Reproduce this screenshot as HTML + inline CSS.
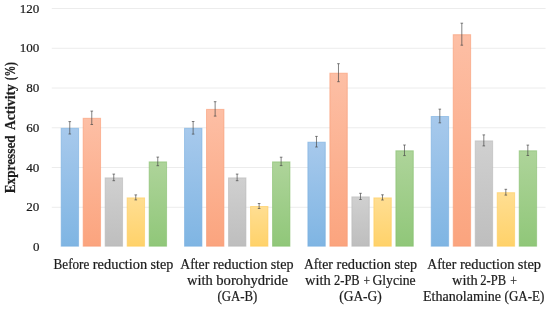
<!DOCTYPE html><html><head><meta charset="utf-8"><title>Expressed Activity</title>
<style>html,body{margin:0;padding:0;background:#fff}body{width:550px;height:310px;overflow:hidden}svg{display:block}text{font-family:"Liberation Serif","DejaVu Serif",serif;fill:#1c1c1c;stroke:#1c1c1c;stroke-width:0.22px}</style></head><body>
<svg width="550" height="310" viewBox="0 0 550 310">
<defs>
<linearGradient id="g0" x1="0" y1="0" x2="0" y2="1"><stop offset="0" stop-color="#a7c9ec"/><stop offset="1" stop-color="#7fb5e3"/></linearGradient>
<linearGradient id="g1" x1="0" y1="0" x2="0" y2="1"><stop offset="0" stop-color="#fdbfa5"/><stop offset="1" stop-color="#fba47e"/></linearGradient>
<linearGradient id="g2" x1="0" y1="0" x2="0" y2="1"><stop offset="0" stop-color="#d0d0d0"/><stop offset="1" stop-color="#bebebe"/></linearGradient>
<linearGradient id="g3" x1="0" y1="0" x2="0" y2="1"><stop offset="0" stop-color="#ffde92"/><stop offset="1" stop-color="#ffd26a"/></linearGradient>
<linearGradient id="g4" x1="0" y1="0" x2="0" y2="1"><stop offset="0" stop-color="#aed49a"/><stop offset="1" stop-color="#90c779"/></linearGradient>
</defs>
<rect width="550" height="310" fill="#fff"/>
<line x1="51.8" x2="545.6" y1="207.25" y2="207.25" stroke="#ececec" stroke-width="1"/>
<line x1="51.8" x2="545.6" y1="167.50" y2="167.50" stroke="#ececec" stroke-width="1"/>
<line x1="51.8" x2="545.6" y1="127.75" y2="127.75" stroke="#ececec" stroke-width="1"/>
<line x1="51.8" x2="545.6" y1="88.00" y2="88.00" stroke="#ececec" stroke-width="1"/>
<line x1="51.8" x2="545.6" y1="48.25" y2="48.25" stroke="#ececec" stroke-width="1"/>
<line x1="51.8" x2="545.6" y1="8.50" y2="8.50" stroke="#ececec" stroke-width="1"/>
<text x="39.4" y="251.20" font-size="13.4" text-anchor="end" textLength="6.5" lengthAdjust="spacingAndGlyphs">0</text>
<text x="39.4" y="211.45" font-size="13.4" text-anchor="end" textLength="13.1" lengthAdjust="spacingAndGlyphs">20</text>
<text x="39.4" y="171.70" font-size="13.4" text-anchor="end" textLength="13.1" lengthAdjust="spacingAndGlyphs">40</text>
<text x="39.4" y="131.95" font-size="13.4" text-anchor="end" textLength="13.1" lengthAdjust="spacingAndGlyphs">60</text>
<text x="39.4" y="92.20" font-size="13.4" text-anchor="end" textLength="13.1" lengthAdjust="spacingAndGlyphs">80</text>
<text x="39.4" y="52.45" font-size="13.4" text-anchor="end" textLength="19.6" lengthAdjust="spacingAndGlyphs">100</text>
<text x="39.4" y="12.70" font-size="13.4" text-anchor="end" textLength="19.6" lengthAdjust="spacingAndGlyphs">120</text>
<rect x="61.18" y="128.30" width="17.4" height="117.90" fill="url(#g0)" stroke="#76aee0" stroke-opacity="0.6" stroke-width="1"/>
<path d="M69.78 121.60V134.00M68.48 121.60H71.08M68.48 134.00H71.08" stroke="#4a4a4a" stroke-width="0.7" fill="none"/>
<rect x="83.17" y="118.30" width="17.4" height="127.90" fill="url(#g1)" stroke="#f99a72" stroke-opacity="0.6" stroke-width="1"/>
<path d="M91.78 111.10V124.50M90.48 111.10H93.08M90.48 124.50H93.08" stroke="#4a4a4a" stroke-width="0.7" fill="none"/>
<rect x="105.17" y="177.90" width="17.4" height="68.30" fill="url(#g2)" stroke="#b7b7b7" stroke-opacity="0.6" stroke-width="1"/>
<path d="M113.78 174.10V180.70M112.48 174.10H115.08M112.48 180.70H115.08" stroke="#4a4a4a" stroke-width="0.7" fill="none"/>
<rect x="127.17" y="197.90" width="17.4" height="48.30" fill="url(#g3)" stroke="#ffcb58" stroke-opacity="0.6" stroke-width="1"/>
<path d="M135.78 194.90V199.90M134.47 194.90H137.08M134.47 199.90H137.08" stroke="#4a4a4a" stroke-width="0.7" fill="none"/>
<rect x="149.18" y="161.90" width="17.4" height="84.30" fill="url(#g4)" stroke="#84be6b" stroke-opacity="0.6" stroke-width="1"/>
<path d="M157.78 157.10V165.70M156.47 157.10H159.08M156.47 165.70H159.08" stroke="#4a4a4a" stroke-width="0.7" fill="none"/>
<rect x="184.53" y="128.30" width="17.4" height="117.90" fill="url(#g0)" stroke="#76aee0" stroke-opacity="0.6" stroke-width="1"/>
<path d="M193.13 121.50V134.10M191.83 121.50H194.43M191.83 134.10H194.43" stroke="#4a4a4a" stroke-width="0.7" fill="none"/>
<rect x="206.53" y="109.40" width="17.4" height="136.80" fill="url(#g1)" stroke="#f99a72" stroke-opacity="0.6" stroke-width="1"/>
<path d="M215.13 101.70V116.10M213.83 101.70H216.43M213.83 116.10H216.43" stroke="#4a4a4a" stroke-width="0.7" fill="none"/>
<rect x="228.53" y="177.90" width="17.4" height="68.30" fill="url(#g2)" stroke="#b7b7b7" stroke-opacity="0.6" stroke-width="1"/>
<path d="M237.13 174.10V180.70M235.83 174.10H238.43M235.83 180.70H238.43" stroke="#4a4a4a" stroke-width="0.7" fill="none"/>
<rect x="250.53" y="206.50" width="17.4" height="39.70" fill="url(#g3)" stroke="#ffcb58" stroke-opacity="0.6" stroke-width="1"/>
<path d="M259.12 203.50V208.50M257.82 203.50H260.43M257.82 208.50H260.43" stroke="#4a4a4a" stroke-width="0.7" fill="none"/>
<rect x="272.53" y="161.90" width="17.4" height="84.30" fill="url(#g4)" stroke="#84be6b" stroke-opacity="0.6" stroke-width="1"/>
<path d="M281.12 157.20V165.60M279.82 157.20H282.43M279.82 165.60H282.43" stroke="#4a4a4a" stroke-width="0.7" fill="none"/>
<rect x="307.88" y="142.20" width="17.4" height="104.00" fill="url(#g0)" stroke="#76aee0" stroke-opacity="0.6" stroke-width="1"/>
<path d="M316.48 136.40V147.00M315.18 136.40H317.78M315.18 147.00H317.78" stroke="#4a4a4a" stroke-width="0.7" fill="none"/>
<rect x="329.88" y="73.20" width="17.4" height="173.00" fill="url(#g1)" stroke="#f99a72" stroke-opacity="0.6" stroke-width="1"/>
<path d="M338.48 63.70V81.70M337.18 63.70H339.78M337.18 81.70H339.78" stroke="#4a4a4a" stroke-width="0.7" fill="none"/>
<rect x="351.88" y="196.90" width="17.4" height="49.30" fill="url(#g2)" stroke="#b7b7b7" stroke-opacity="0.6" stroke-width="1"/>
<path d="M360.48 193.30V199.50M359.18 193.30H361.78M359.18 199.50H361.78" stroke="#4a4a4a" stroke-width="0.7" fill="none"/>
<rect x="373.88" y="197.90" width="17.4" height="48.30" fill="url(#g3)" stroke="#ffcb58" stroke-opacity="0.6" stroke-width="1"/>
<path d="M382.48 194.80V200.00M381.18 194.80H383.78M381.18 200.00H383.78" stroke="#4a4a4a" stroke-width="0.7" fill="none"/>
<rect x="395.88" y="150.80" width="17.4" height="95.40" fill="url(#g4)" stroke="#84be6b" stroke-opacity="0.6" stroke-width="1"/>
<path d="M404.48 145.00V155.60M403.18 145.00H405.78M403.18 155.60H405.78" stroke="#4a4a4a" stroke-width="0.7" fill="none"/>
<rect x="431.23" y="116.50" width="17.4" height="129.70" fill="url(#g0)" stroke="#76aee0" stroke-opacity="0.6" stroke-width="1"/>
<path d="M439.82 109.15V122.85M438.52 109.15H441.12M438.52 122.85H441.12" stroke="#4a4a4a" stroke-width="0.7" fill="none"/>
<rect x="453.23" y="34.70" width="17.4" height="211.50" fill="url(#g1)" stroke="#f99a72" stroke-opacity="0.6" stroke-width="1"/>
<path d="M461.82 23.20V45.20M460.52 23.20H463.12M460.52 45.20H463.12" stroke="#4a4a4a" stroke-width="0.7" fill="none"/>
<rect x="475.23" y="140.90" width="17.4" height="105.30" fill="url(#g2)" stroke="#b7b7b7" stroke-opacity="0.6" stroke-width="1"/>
<path d="M483.82 134.90V145.90M482.52 134.90H485.12M482.52 145.90H485.12" stroke="#4a4a4a" stroke-width="0.7" fill="none"/>
<rect x="497.23" y="192.70" width="17.4" height="53.50" fill="url(#g3)" stroke="#ffcb58" stroke-opacity="0.6" stroke-width="1"/>
<path d="M505.82 189.30V195.10M504.52 189.30H507.12M504.52 195.10H507.12" stroke="#4a4a4a" stroke-width="0.7" fill="none"/>
<rect x="519.22" y="150.80" width="17.4" height="95.40" fill="url(#g4)" stroke="#84be6b" stroke-opacity="0.6" stroke-width="1"/>
<path d="M527.82 145.10V155.50M526.52 145.10H529.12M526.52 155.50H529.12" stroke="#4a4a4a" stroke-width="0.7" fill="none"/>
<text transform="translate(14.8 193) rotate(-90)" font-size="14.3" font-weight="bold"><tspan x="-0.3" textLength="58.0" lengthAdjust="spacingAndGlyphs">Expressed</tspan> <tspan x="63.0" textLength="45.8" lengthAdjust="spacingAndGlyphs">Activity</tspan> <tspan x="112.8" textLength="18.0" lengthAdjust="spacingAndGlyphs">(%)</tspan></text>
<text y="269.3" font-size="14.3"><tspan x="53.6" textLength="35.7" lengthAdjust="spacingAndGlyphs">Before</tspan> <tspan x="92.8" textLength="54.4" lengthAdjust="spacingAndGlyphs">reduction</tspan> <tspan x="150.5" textLength="22.7" lengthAdjust="spacingAndGlyphs">step</tspan></text>
<text y="269.3" font-size="14.3"><tspan x="180.3" textLength="28.9" lengthAdjust="spacingAndGlyphs">After</tspan> <tspan x="213.0" textLength="54.4" lengthAdjust="spacingAndGlyphs">reduction</tspan> <tspan x="270.8" textLength="22.7" lengthAdjust="spacingAndGlyphs">step</tspan></text>
<text y="285.1" font-size="14.3"><tspan x="187.0" textLength="25.8" lengthAdjust="spacingAndGlyphs">with</tspan> <tspan x="216.3" textLength="71.6" lengthAdjust="spacingAndGlyphs">borohydride</tspan></text>
<text y="300.9" font-size="14.3"><tspan x="217.5" textLength="39.8" lengthAdjust="spacingAndGlyphs">(GA-B)</tspan></text>
<text y="269.3" font-size="14.3"><tspan x="303.9" textLength="28.9" lengthAdjust="spacingAndGlyphs">After</tspan> <tspan x="336.6" textLength="54.4" lengthAdjust="spacingAndGlyphs">reduction</tspan> <tspan x="394.4" textLength="22.7" lengthAdjust="spacingAndGlyphs">step</tspan></text>
<text y="285.1" font-size="14.3"><tspan x="305.0" textLength="25.8" lengthAdjust="spacingAndGlyphs">with</tspan> <tspan x="334.0" textLength="25.7" lengthAdjust="spacingAndGlyphs">2-PB</tspan> <tspan x="363.6" textLength="6.5" lengthAdjust="spacingAndGlyphs">+</tspan> <tspan x="372.4" textLength="43.3" lengthAdjust="spacingAndGlyphs">Glycine</tspan></text>
<text y="300.9" font-size="14.3"><tspan x="339.2" textLength="42.6" lengthAdjust="spacingAndGlyphs">(GA-G)</tspan></text>
<text y="269.3" font-size="14.3"><tspan x="427.3" textLength="28.9" lengthAdjust="spacingAndGlyphs">After</tspan> <tspan x="460.0" textLength="54.4" lengthAdjust="spacingAndGlyphs">reduction</tspan> <tspan x="517.8" textLength="23.3" lengthAdjust="spacingAndGlyphs">step</tspan></text>
<text y="285.1" font-size="14.3"><tspan x="452.0" textLength="25.6" lengthAdjust="spacingAndGlyphs">with</tspan> <tspan x="480.3" textLength="25.8" lengthAdjust="spacingAndGlyphs">2-PB</tspan> <tspan x="510.2" textLength="6.7" lengthAdjust="spacingAndGlyphs">+</tspan></text>
<text y="300.9" font-size="14.3"><tspan x="423.0" textLength="78.1" lengthAdjust="spacingAndGlyphs">Ethanolamine</tspan> <tspan x="504.6" textLength="39.7" lengthAdjust="spacingAndGlyphs">(GA-E)</tspan></text>
</svg></body></html>
